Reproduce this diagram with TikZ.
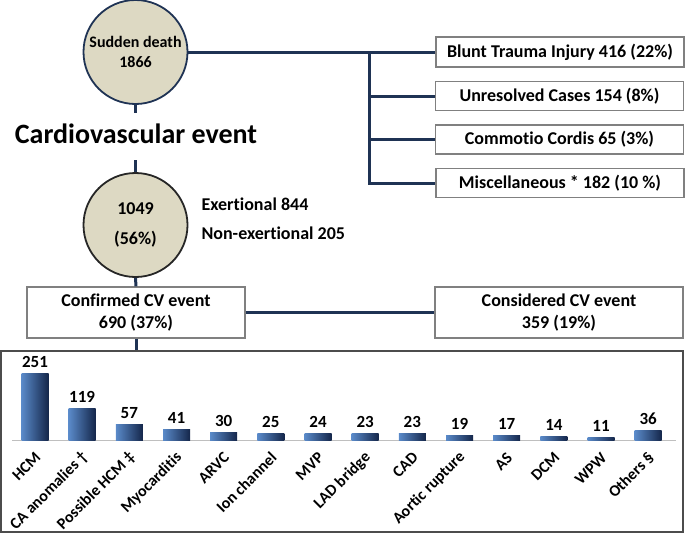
\documentclass[tikz,border=0pt]{standalone}
\usepackage{fontspec}
\setmainfont{Carlito}[Ligatures=NoCommon]
\definecolor{navy}{HTML}{1F3354}
\definecolor{beige}{HTML}{DDD9C3}
\definecolor{boxgray}{HTML}{808080}
\definecolor{barlight}{HTML}{5A8AC9}
\definecolor{bardark}{HTML}{14264A}
\definecolor{axisgray}{HTML}{BFBFBF}
\tikzset{
  conn/.style={draw=navy, line width=3pt},
  bigcirc/.style={circle, fill=beige, line width=1.8pt, minimum size=104pt, inner sep=0pt, align=center},
  catbox/.style={draw=boxgray, line width=1.2pt, fill=white, minimum width=248pt, minimum height=29pt, inner sep=0pt, font=\bfseries\fontsize{18}{20}\selectfont},
  cvbox/.style={draw=boxgray, line width=1.2pt, fill=white, minimum height=51pt, inner sep=0pt, align=center, font=\bfseries\fontsize{18}{22}\selectfont},
  sidetext/.style={anchor=west, font=\bfseries\fontsize{18}{20}\selectfont},
  valtext/.style={anchor=base, font=\bfseries\fontsize{17}{18}\selectfont},
  cattext/.style={rotate=45, anchor=east, inner sep=0pt, font=\bfseries\fontsize{16}{18}\selectfont},
  barfill/.style={left color=barlight, right color=bardark}
}
\begin{document}
\begin{tikzpicture}[x=1pt,y=-1pt]
\useasboundingbox (0,0) rectangle (685,533);
% top circle
\node[bigcirc, draw=navy, font=\bfseries\fontsize{16}{20}\selectfont] (sd) at (135.5,52) {Sudden death\\1866};
\node[font=\bfseries\fontsize{28}{30}\selectfont] (cv) at (136,134) {Cardiovascular event};
\coordinate (sdend) at (135.5,113);
\draw[conn] (sd.south) -- (sdend);
% second circle
\node[bigcirc, draw=black!85, font=\bfseries\fontsize{18}{30}\selectfont] (c2) at (135.5,225) {1049\\(56\%)};
\coordinate (c2top) at (135.5,160);
\draw[conn] (c2top) -- (c2.north);
\node[sidetext] (ex) at (198,204) {Exertional 844};
\node[sidetext] (ne) at (198,233) {Non-exertional 205};
% right boxes
\node[catbox, minimum height=30pt] (b1) at (560,52) {Blunt Trauma Injury 416 (22\%)};
\node[catbox] (b2) at (559.5,96) {Unresolved Cases 154 (8\%)};
\node[catbox] (b3) at (559.5,139.5) {Commotio Cordis 65 (3\%)};
\node[catbox] (b4) at (560,183) {Miscellaneous * 182 (10 \%)};
\coordinate (trunk) at (369,52);
\draw[conn] (sd.east) -- (b1.west);
\draw[conn] (trunk) |- (b4.west);
\draw[conn] (trunk |- b2.west) -- (b2.west);
\draw[conn] (trunk |- b3.west) -- (b3.west);
% CV boxes
\node[cvbox, minimum width=218pt] (cf) at (136,312.5) {Confirmed CV event\\690 (37\%)};
\node[cvbox, minimum width=248pt] (cs) at (559,312.5) {Considered CV event\\359 (19\%)};
\draw[conn] (c2.south) -- (cf.north);
\draw[conn] (cf.east) -- (cs.west);
% chart
\node[draw=black!70, line width=1.2pt, minimum width=682pt, minimum height=181pt, inner sep=0pt] (chart) at (342,441.5) {};
\draw[conn] (cf.south) -- (cf.south |- chart.north);
\draw[axisgray, line width=1pt] (12,440) -- (676,440);
\foreach \i/\v/\lab in {0/251/HCM, 1/119/CA anomalies †, 2/57/Possible HCM ‡, 3/41/Myocarditis, 4/30/ARVC, 5/25/Ion channel, 6/24/MVP, 7/23/LAD bridge, 8/23/CAD, 9/19/Aortic rupture, 10/17/AS, 11/14/DCM, 12/11/WPW, 13/36/Others §}{
  \pgfmathsetmacro{\bx}{35+\i*47.17}
  \pgfmathsetmacro{\bt}{440-\v*0.2635}
  \shade[barfill] (\bx-13.5,440) rectangle (\bx+13.5,\bt);
  \node[valtext] (val\i) at (\bx,\bt-6) {\v};
  \node[cattext] (lab\i) at (\bx+3,455) {\lab};
}
\end{tikzpicture}
\end{document}
